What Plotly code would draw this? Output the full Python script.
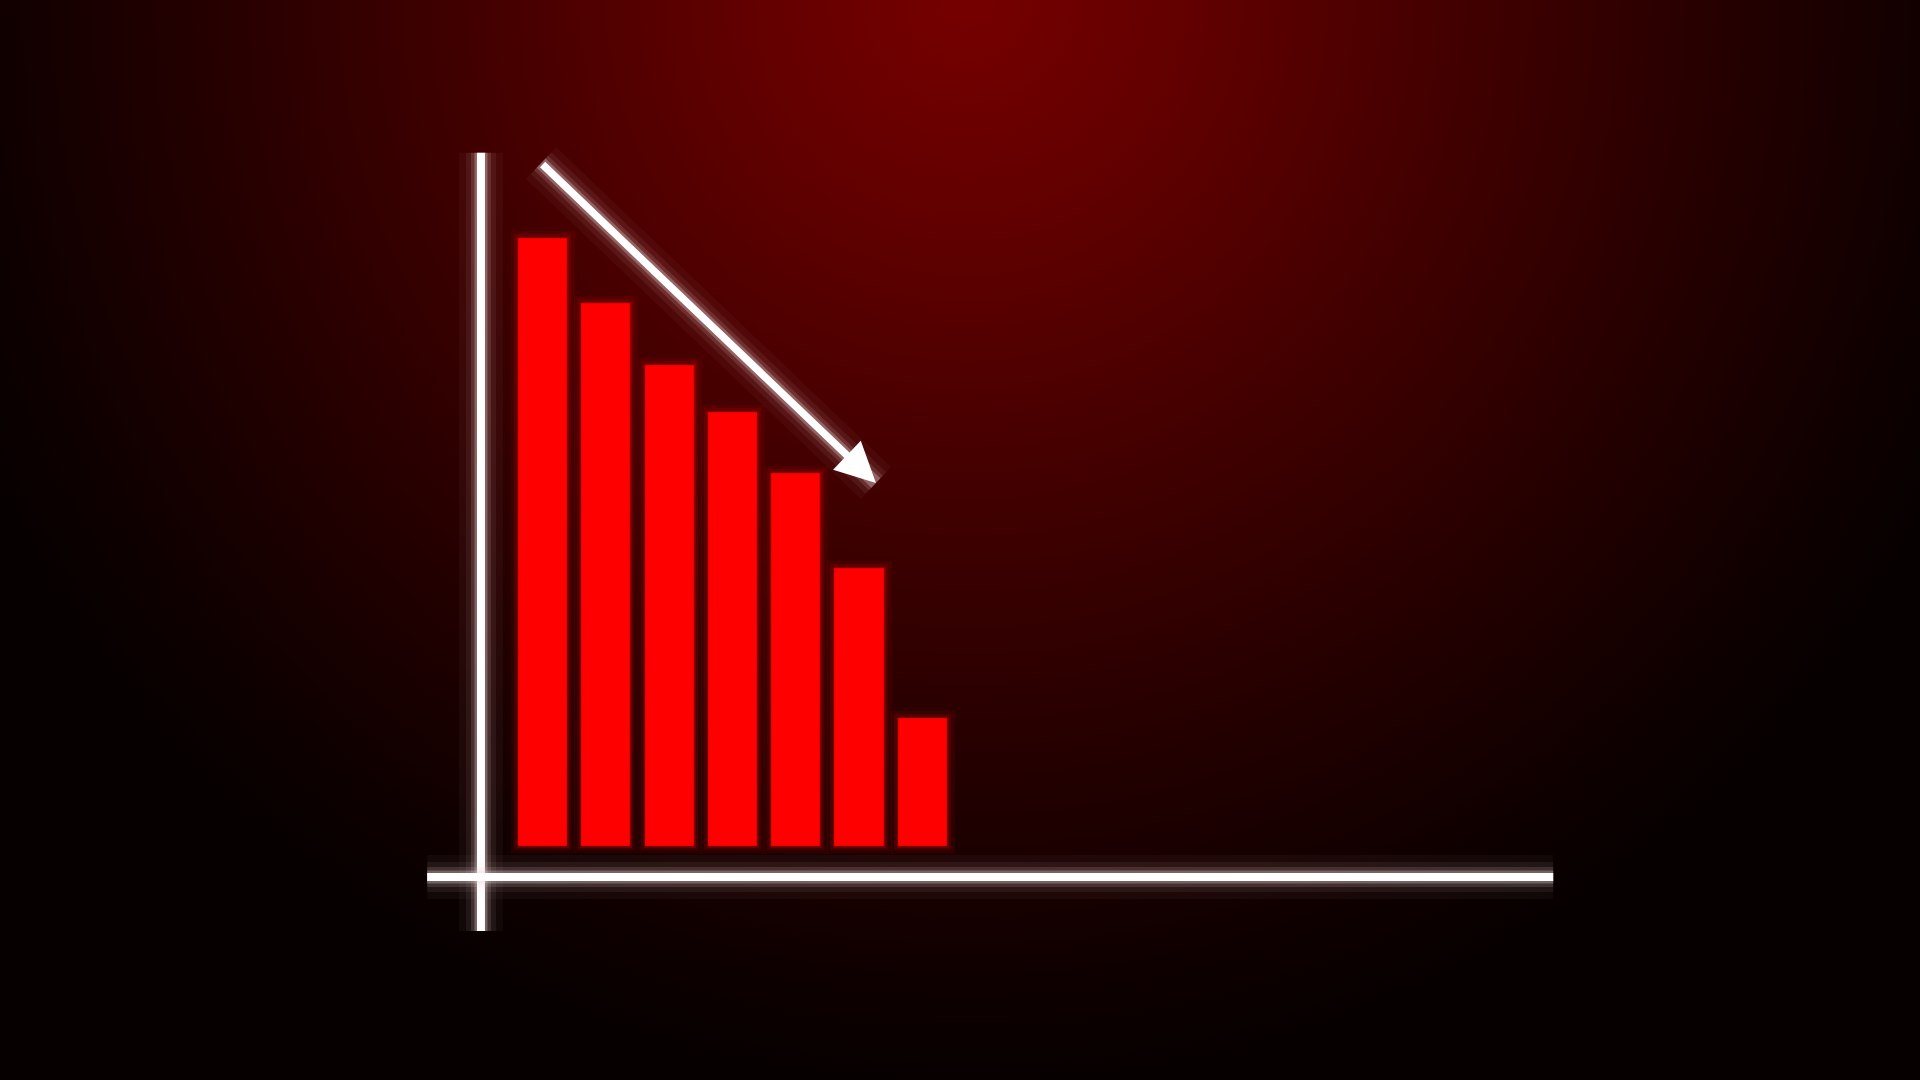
import base64
import plotly.graph_objects as go

# --- Data ---
positions = [0, 1, 2, 3, 4, 5, 6]
values = [100, 89.3, 79.1, 71.3, 61.3, 45.6, 20.9]

# trend arrow (start -> tip), in data units
arrow_x = [-0.03, 5.26]
arrow_y = [112.5, 59.8]

# hand-drawn axes, in data units
y_axis_x = [-0.98, -0.98]
y_axis_y = [114.2, -14.0]
x_axis_x = [-1.83, 15.96]
x_axis_y = [-5.1, -5.1]

BAR_RED = "#ff0000"

# --- Background: radial red glow from the top centre ---
svg = """<svg xmlns='http://www.w3.org/2000/svg' width='1920' height='1080'>
<defs><radialGradient id='g' gradientUnits='userSpaceOnUse' cx='967' cy='0' r='1100'>
<stop offset='0' stop-color='rgb(118,0,0)'/>
<stop offset='0.2' stop-color='rgb(98,0,0)'/>
<stop offset='0.45' stop-color='rgb(66,0,0)'/>
<stop offset='0.7' stop-color='rgb(36,0,0)'/>
<stop offset='0.9' stop-color='rgb(14,0,0)'/>
<stop offset='1' stop-color='rgb(6,0,0)'/>
</radialGradient></defs>
<rect width='1920' height='1080' fill='url(#g)'/></svg>"""
bg_src = "data:image/svg+xml;base64," + base64.b64encode(svg.encode()).decode()

fig = go.Figure()

# red glow under the bars
for lw, alpha in [(16, 0.07), (9, 0.12), (4, 0.22)]:
    fig.add_trace(go.Bar(
        x=positions, y=values, width=0.76,
        marker=dict(color="rgba(255,0,0,0)", line=dict(width=lw, color=f"rgba(255,0,0,{alpha})")),
        hoverinfo="skip", showlegend=False,
    ))

fig.add_trace(go.Bar(
    x=positions, y=values, width=0.76,
    marker=dict(color=BAR_RED, line=dict(width=1, color="#ea0000")),
    showlegend=False,
    hovertemplate="%{y}<extra></extra>",
))

# glowing white lines: axes + arrow shaft
def glow_line(xs, ys, core=True):
    for lw, alpha in [(44, 0.04), (30, 0.07), (20, 0.14), (13, 0.3)]:
        fig.add_trace(go.Scatter(
            x=xs, y=ys, mode="lines",
            line=dict(width=lw, color=f"rgba(240,215,215,{alpha})"),
            hoverinfo="skip", showlegend=False,
        ))
    if core:
        fig.add_trace(go.Scatter(
            x=xs, y=ys, mode="lines",
            line=dict(width=8, color="#ffffff"),
            hoverinfo="skip", showlegend=False,
        ))

glow_line(y_axis_x, y_axis_y)
glow_line(x_axis_x, x_axis_y)
glow_line(arrow_x, arrow_y, core=False)

fig.add_annotation(
    x=arrow_x[1], y=arrow_y[1], ax=arrow_x[0], ay=arrow_y[0],
    xref="x", yref="y", axref="x", ayref="y",
    text="", showarrow=True,
    arrowhead=2, arrowsize=1.07, arrowwidth=7.5, arrowcolor="#ffffff",
    standoff=0,
)

fig.update_layout(
    width=1920, height=1080,
    margin=dict(l=0, r=0, t=0, b=0),
    paper_bgcolor="#000000",
    plot_bgcolor="rgba(0,0,0,0)",
    barmode="overlay",
    bargap=0,
    showlegend=False,
    xaxis=dict(range=[-8.578, 21.754], visible=False, fixedrange=True),
    yaxis=dict(range=[-38.55, 139.37], visible=False, fixedrange=True),
    images=[dict(
        source=bg_src, xref="paper", yref="paper", x=0, y=1,
        sizex=1, sizey=1, sizing="stretch", layer="below",
        xanchor="left", yanchor="top",
    )],
)

fig.write_html("out.html", config={"displayModeBar": False},
               post_script="document.body.style.margin='0';")
